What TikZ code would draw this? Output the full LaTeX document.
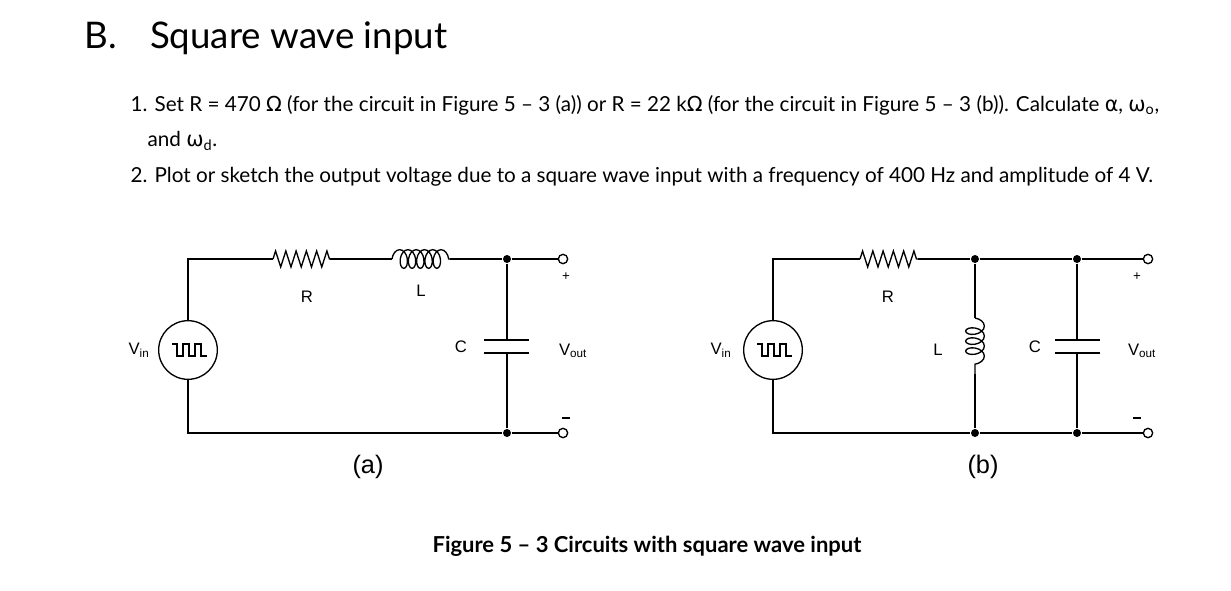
\documentclass[tikz,border=0pt]{standalone}
\usepackage{fontspec}
\setmainfont{Lato}
\newfontfamily\arial{Liberation Sans}
\newfontfamily\gr{DejaVu Sans}
\usetikzlibrary{decorations.pathmorphing}
\begin{document}
\begin{tikzpicture}[x=0.75pt,y=-0.75pt,line width=1pt,
  res/.style={decorate,decoration={zigzag,segment length=7.7pt,amplitude=6pt}},
  ind/.style={decorate,decoration={coil,aspect=0.6,segment length=6.2pt,amplitude=7pt}},
  dot/.style={circle,fill,inner sep=0,minimum size=6pt},
  term/.style={circle,draw,fill=white,inner sep=0,minimum size=7pt},
  src/.style={circle,draw,minimum size=44pt,inner sep=0},
  lab/.style={font=\arial\fontsize{12.5}{14}\selectfont},
  txt/.style={anchor=west,font=\fontsize{15.5}{18}\selectfont,inner sep=0}]
\useasboundingbox (0,0) rectangle (1231,590);
\node[anchor=west,inner sep=0,font=\fontsize{27.5}{32}\selectfont] (title) at (84,38) {B.\hspace{0.9em}Square wave input};
\node[txt] (l1) at (130,105) {1. Set R = 470 {\gr Ω} (for the circuit in Figure 5 – 3 (a)) or R = 22 k{\gr Ω} (for the circuit in Figure 5 – 3 (b)). Calculate {\gr α}, {\gr ω}\textsubscript{o},};
\node[txt] (l1b) at (147,141) {and {\gr ω}\textsubscript{d}.};
\node[txt] (l2) at (130,177) {2. Plot or sketch the output voltage due to a square wave input with a frequency of 400 Hz and amplitude of 4 V.};
\node[font=\bfseries\fontsize{16.5}{19}\selectfont] (cap) at (647,546) {Figure 5 – 3 Circuits with square wave input};
% ---------- (a)
\node[src] (sa) at (188,350) {};
\draw[line width=0.8pt] (172,344) -- ++(5,0) -- ++(0,12) -- ++(6,0) -- ++(0,-12) -- ++(6,0) -- ++(0,12) -- ++(6,0) -- ++(0,-12) -- ++(6,0) -- ++(0,12) -- ++(6,0);
\coordinate (a1) at (188,259); \coordinate (a2) at (273,259); \coordinate (a3) at (330,259);
\coordinate (a4) at (392,259); \coordinate (a5) at (450,259);
\node[dot] (na) at (507,259) {}; \node[dot] (nb) at (507,433) {};
\node[term] (ta) at (563,259) {}; \node[term] (tb) at (563,433) {};
\coordinate (a6) at (188,433);
\draw (sa.north) -- (a1) -- (a2);
\draw[res] (a2) -- (a3);
\draw (a3) -- (a4);
\draw[ind] (a4) -- (a5);
\draw (a5) -- (na) -- (ta);
\draw (sa.south) -- (a6) -- (nb) -- (tb);
\draw (na) -- (507,340); \draw (507,353) -- (nb);
\draw (484,340) -- (529,340); \draw (484,353) -- (529,353);
\node[lab] at (307,297) {R}; \node[lab] at (421,291) {L}; \node[lab] at (461,347) {C};
\node[lab] at (139,350) {V\textsubscript{in}}; \node[lab] at (573,351) {V\textsubscript{out}};
\node[lab,font=\arial\fontsize{10}{10}\selectfont] at (566,277) {+};
\draw[line width=0.8pt] (562,418) -- (570,418);
\node[lab,font=\arial\fontsize{19}{22}\selectfont] at (368,467) {(a)};
% ---------- (b)
\node[src] (sb) at (773,350) {};
\draw[line width=0.8pt] (757,344) -- ++(5,0) -- ++(0,12) -- ++(6,0) -- ++(0,-12) -- ++(6,0) -- ++(0,12) -- ++(6,0) -- ++(0,-12) -- ++(6,0) -- ++(0,12) -- ++(6,0);
\coordinate (b1) at (773,259); \coordinate (b2) at (860,259); \coordinate (b3) at (918,259);
\node[dot] (n1) at (975,259) {}; \node[dot] (n2) at (975,433) {};
\node[dot] (n3) at (1077,259) {}; \node[dot] (n4) at (1077,433) {};
\node[term] (t1) at (1148,259) {}; \node[term] (t2) at (1148,433) {};
\coordinate (b6) at (773,433);
\coordinate (i1) at (975,318); \coordinate (i2) at (975,374);
\draw (sb.north) -- (b1) -- (b2);
\draw[res] (b2) -- (b3);
\draw (b3) -- (n1) -- (n3) -- (t1);
\draw (sb.south) -- (b6) -- (n2) -- (n4) -- (t2);
\draw (n1) -- (i1); \draw[ind,decoration={segment length=7.5pt}] (i1) -- (i2); \draw (i2) -- (n2);
\draw (n3) -- (1077,340); \draw (1077,353) -- (n4);
\draw (1055,340) -- (1100,340); \draw (1055,353) -- (1100,353);
\node[lab] at (888,297) {R}; \node[lab] at (938,350) {L}; \node[lab] at (1035,347) {C};
\node[lab] at (721,350) {V\textsubscript{in}}; \node[lab] at (1142,351) {V\textsubscript{out}};
\node[lab,font=\arial\fontsize{10}{10}\selectfont] at (1137,277) {+};
\draw[line width=0.8pt] (1133,418) -- (1141,418);
\node[lab,font=\arial\fontsize{19}{22}\selectfont] at (983,467) {(b)};
\end{tikzpicture}
\end{document}
